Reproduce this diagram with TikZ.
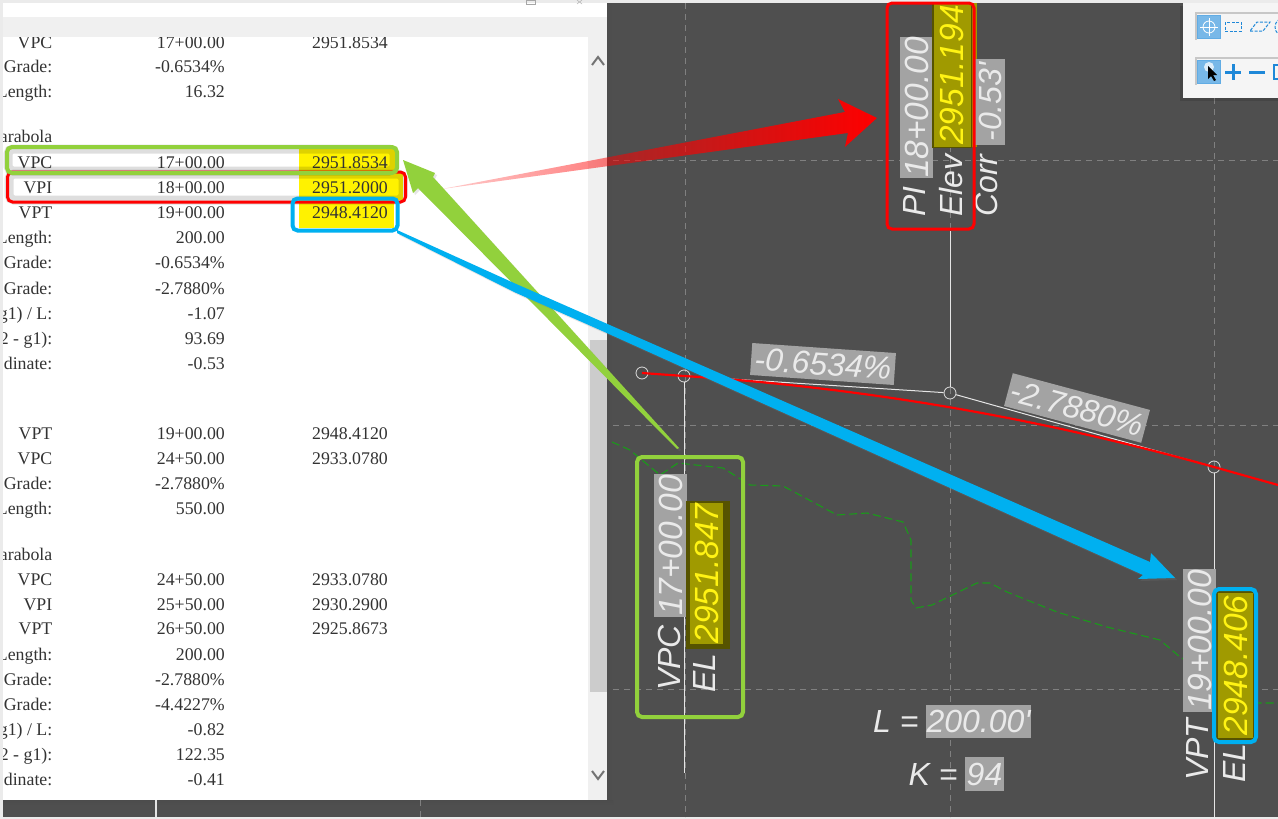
\documentclass[tikz,border=0pt]{standalone}
\usepackage{fontspec}
\setmainfont{Liberation Serif}
\newfontfamily\capfont{Liberation Sans}
\usepackage{xcolor}
\usetikzlibrary{shapes,arrows,positioning,shadows,calc,fadings}

\definecolor{screen}{HTML}{4F4F4F}
\definecolor{capgrey}{HTML}{A3A3A3}
\definecolor{capwhite}{HTML}{EAEAEA}
\definecolor{olive}{HTML}{A09A00}
\definecolor{darkolive}{HTML}{565300}
\definecolor{markgreen}{HTML}{92D13C}
\definecolor{markblue}{HTML}{00B0F0}
\definecolor{ground}{HTML}{1A9A1A}
\definecolor{toolblue}{HTML}{1E88D8}

\tikzfading[name=tail fade, left color=transparent!80, right color=transparent!0]

\tikzset{
  cell/.style={inner sep=0pt, anchor=base east, text=black!80, font=\fontsize{17.8}{17.8}\selectfont},
  gridline/.style={dashed, dash pattern=on 6pt off 5pt, draw=white!28!screen, line width=0.8pt},
  whiteline/.style={draw=white!85!screen, line width=1pt},
  vertex/.style={circle, draw=white!80!screen, line width=0.8pt, minimum size=12pt, inner sep=0pt},
  caplabel/.style={inner sep=0pt, text=capwhite, font=\capfont\itshape\fontsize{32}{32}\selectfont},
  flatbox/.style={caplabel, fill=capgrey},
  capbox/.style={flatbox, font=\capfont\itshape\fontsize{33.5}{33.5}\selectfont},
  yellowbox/.style={capbox, fill=olive, text=yellow!92!white},
  markbox/.style={rectangle, rounded corners=5pt, line width=4pt},
  halo/.style={markbox, draw=black, opacity=0.13, line width=9pt},
  toolkey/.style={fill=toolblue!60!white, draw=toolblue!70!white, minimum size=23pt, inner sep=0pt}
}

\begin{document}
\begin{tikzpicture}[x=1pt,y=-1pt]
\useasboundingbox (0,0) rectangle (1278,819);
\clip (0,0) rectangle (1278,819);

% screen and report window
\fill[white!92!black] (0,0) rectangle (1278,819);
\fill[screen] (3,3) rectangle (1278,817);
\shade[left color=black!70, right color=screen] (607,3) rectangle (613,804);
\shade[top color=black!70, bottom color=screen] (3,800) rectangle (613,805);
\fill[white] (3,3) rectangle (607,800);
\fill[black!6] (3,17) rectangle (607,37);
\fill[black!6] (588,37) rectangle (607,800);
\fill[black!20] (590,340) rectangle (607,692);
\draw[black!55, line width=2pt] (592,65) -- (598,57) -- (604,65);
\draw[black!55, line width=2pt] (592,771) -- (598,779) -- (604,771);
\draw[black!35] (526,0) rectangle (535,4);
\draw[black!35] (577,0) -- (582,4) (582,0) -- (577,4);
\fill[white!85!screen] (155,800) rectangle (157,817);
\draw[gridline] (420,800) -- (420,817);

% highlighted elevations
\fill[yellow] (299,148) rectangle (395,172);
\fill[yellow] (299,172) rectangle (403,200);
\fill[yellow] (299,200) rectangle (394,228);

% report rows
\begin{scope}
\clip (3,37) rectangle (588,800);
\foreach \lab/\sta/\elv/\ypos in {
  VPC/17+00.00/2951.8534/43, Grade:/-0.6534\%//67, Length:/16.32//92,
  arabola///137, VPC/17+00.00/2951.8534/163, VPI/18+00.00/2951.2000/188,
  VPT/19+00.00/2948.4120/213, Length:/200.00//238, Grade:/-0.6534\%//263,
  Grade:/-2.7880\%//289, g1) {/} L:/-1.07//314, 2 - g1):/93.69//339,
  dinate:/-0.53//364, VPT/19+00.00/2948.4120/434, VPC/24+50.00/2933.0780/459,
  Grade:/-2.7880\%//484, Length:/550.00//509, arabola///555,
  VPC/24+50.00/2933.0780/580, VPI/25+50.00/2930.2900/605, VPT/26+50.00/2925.8673/629,
  Length:/200.00//655, Grade:/-2.7880\%//680, Grade:/-4.4227\%//705,
  g1) {/} L:/-0.82//730, 2 - g1):/122.35//755, dinate:/-0.41//780}
{
  \node[cell] (lab\ypos) at (52.5,\ypos+5.6) {\lab};
  \node[cell] (sta\ypos) at (225,\ypos+5.6) {\sta};
  \node[cell] (elv\ypos) at (388,\ypos+5.6) {\elv};
}
\end{scope}

% grid
\draw[gridline] (613,160) -- (1278,160);
\draw[gridline] (613,425) -- (1278,425);
\draw[gridline] (613,689) -- (1278,689);
\draw[gridline] (685,3) -- (685,817);
\draw[gridline] (950,3) -- (950,817);
\draw[gridline] (1214,98) -- (1214,817);

% existing ground
\draw[ground, dashed, dash pattern=on 8pt off 4pt, line width=1.1pt, line join=round]
  (612,442) -- (630,450) -- (660,475) -- (678,463) -- (723,468) -- (750,485) -- (783,486)
  -- (837,515) -- (867,513) -- (903,522) -- (911,540) -- (911,600) -- (916,608) -- (932,605)
  -- (977,583) -- (990,583) -- (1007,592) -- (1057,612) -- (1107,627) -- (1160,640)
  -- (1180,657) -- (1257,703) -- (1278,703);

% profile
\node[vertex] (vbeg) at (642,373) {};
\node[vertex] (vpc) at (684,376) {};
\node[vertex] (vpi) at (950,393) {};
\node[vertex] (vpt) at (1214,467) {};
\coordinate (vend) at (1278,485);
\coordinate (vpitop) at (950,231);
\coordinate (vpclow) at (684,773);
\coordinate (vptlow) at (1214,817);
\draw[whiteline] (vpi) -- (vpitop);
\draw[whiteline] (vpc) -- (vpclow);
\draw[whiteline] (vpt) -- (vptlow);
\draw[whiteline] (vpc) -- (vpi) -- (vpt);
\draw[red, line width=2.2pt] (vbeg.center) -- (vpc.center)
  .. controls ($(vpc.center)!0.667!(vpi.center)$) and ($(vpt.center)!0.667!(vpi.center)$) .. (vpt.center)
  -- (vend);

% grade and curve labels
\node[flatbox, rotate=-4, minimum width=144pt, minimum height=32pt] (gin) at (823,364) {-0.6534\%};
\node[flatbox, rotate=-15, minimum width=142pt, minimum height=34pt] (gout) at (1077,408) {-2.7880\%};
\node[flatbox, minimum width=105pt, minimum height=33pt] (lval) at (978.5,721.5) {200.00'};
\node[caplabel, left=7pt of lval] (llab) {L =};
\node[flatbox, minimum width=39pt, minimum height=34pt] (kval) at (984.5,774) {94};
\node[caplabel, left=7pt of kval] (klab) {K =};

% VPC tag
\node[capbox, rotate=90, minimum width=143pt, minimum height=33pt] (vpcsta) at (670.5,545.5) {17+00.00};
\node[caplabel, rotate=90, anchor=base west] (vpclab) at (680,691) {VPC};
\fill[darkolive] (686,501) rectangle (730,649);
\node[yellowbox, rotate=90, minimum width=141pt, minimum height=33pt] (vpcelv) at (706.5,573.5) {2951.847};
\node[caplabel, rotate=90, anchor=base west] (vpcel) at (715,693) {EL};

% PI tag
\node[capbox, rotate=90, minimum width=141pt, minimum height=33pt] (pista) at (916.5,107.5) {18+00.00};
\node[caplabel, rotate=90, anchor=base west] (pilab) at (925,217) {PI};
\fill[olive] (971,3) rectangle (977,147);
\fill[darkolive] (932,3) rectangle (972,148);
\node[yellowbox, rotate=90, minimum width=144pt, minimum height=37pt] (pielv) at (952,75) {2951.194};
\node[caplabel, rotate=90, anchor=base west] (pielab) at (962,217) {Elev};
\node[flatbox, rotate=90, minimum width=86pt, minimum height=30pt] (picorr) at (990,102) {-0.53'};
\node[caplabel, rotate=90, anchor=base west] (picolab) at (997,217) {Corr};

% VPT tag
\node[capbox, rotate=90, minimum width=143pt, minimum height=33pt] (vptsta) at (1199.5,640.5) {19+00.00};
\node[caplabel, rotate=90, anchor=base west] (vptlab) at (1208,781) {VPT};
\fill[darkolive] (1216,591) rectangle (1254,740);
\node[yellowbox, rotate=90, minimum width=145pt, minimum height=35pt] (vptelv) at (1235.5,665.5) {2948.406};
\node[caplabel, rotate=90, anchor=base west] (vptel) at (1245,783) {EL};

% tool panel
\fill[black, opacity=0.12] (1180,6) rectangle (1278,101);
\fill[white!96!black] (1183,3) rectangle (1278,98);
\draw[black!22, line width=1.2pt] (1278,13) -- (1196,13) -- (1196,40);
\draw[black!22, line width=1.2pt] (1278,58) -- (1196,58) -- (1196,85);
\node[toolkey] (keymove) at (1209,27) {};
\draw[white, line width=0.8pt] (keymove) circle (6pt);
\draw[white, line width=0.8pt] (1200,27) -- (1218,27) (1209,18) -- (1209,36);
\draw[toolblue, dashed, dash pattern=on 3pt off 1.5pt, line width=1pt] (1225,22) rectangle (1241,31);
\draw[toolblue, dashed, dash pattern=on 3pt off 1.5pt, line width=1pt] (1250,31) -- (1263,31) -- (1270,22) -- (1257,22) -- cycle;
\draw[toolblue, dashed, dash pattern=on 3pt off 1.5pt, line width=1pt] (1284,27) circle (9pt);
\node[toolkey] (keyhand) at (1209,72) {};
\fill[white!85!toolblue] (1209,67) circle (5pt);
\fill[black] (1208,66) -- (1208,79) -- (1211,76) -- (1214,81) -- (1216,80) -- (1213,75) -- (1217,75) -- cycle;
\draw[toolblue, line width=3pt] (1225,72) -- (1241,72) (1233,64) -- (1233,80);
\draw[toolblue, line width=3pt] (1249,72) -- (1265,72);
\draw[toolblue, line width=2pt] (1274,65) rectangle (1284,79);

% callout frames
\node[halo, minimum width=386pt, minimum height=22pt] (haloa) at (201,160) {};
\node[halo, minimum width=394pt, minimum height=26pt] (halob) at (206,187) {};
\node[markbox, draw=red, line width=3pt, minimum width=398pt, minimum height=30pt] (boxvpi) at (206.5,187) {};
\node[markbox, draw=markgreen, minimum width=390pt, minimum height=26pt] (boxvpc) at (202,160) {};
\node[markbox, draw=markblue, minimum width=105pt, minimum height=32pt] (boxelv) at (345,214.5) {};
\node[markbox, draw=red, line width=3pt, minimum width=87pt, minimum height=226pt] (boxpi) at (930.5,116) {};
\node[markbox, draw=markgreen, minimum width=106pt, minimum height=260pt] (boxvc) at (690,587) {};
\node[markbox, draw=markblue, minimum width=42pt, minimum height=153pt] (boxvt) at (1235,665.5) {};

% arrows
\fill[red, path fading=tail fade] (442,189) -- (845,112) -- (838,99) -- (877,118) -- (845,147) -- (848,133) -- cycle;
\fill[markgreen, drop shadow={shadow xshift=2pt, shadow yshift=-2pt, opacity=0.2}]
  (403,160) -- (435,173) -- (433,177) -- (679,448) -- (677,449) -- (418,188) -- (413,193) -- cycle;
\fill[markblue, drop shadow={shadow xshift=2pt, shadow yshift=-2pt, opacity=0.2}]
  (397,230) -- (514,283) -- (1150,562) -- (1151,553) -- (1175,578) -- (1138,579) -- (1143,575) -- (600,330) -- (514,292) -- (397,233) -- cycle;
\end{tikzpicture}
\end{document}
